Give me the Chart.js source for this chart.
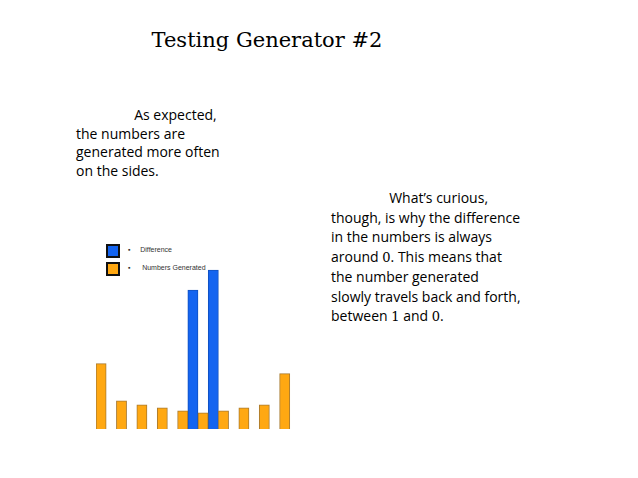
<!DOCTYPE html>
<html><head><meta charset="utf-8">
<script src="https://cdn.jsdelivr.net/npm/chart.js@4"></script>
<style>
body{margin:0;width:638px;height:478px;background:#fff;position:relative;overflow:hidden;font-family:"Open Sans","Noto Sans",sans-serif;}
.t{position:absolute;white-space:nowrap;color:#000}
#title{left:0;width:534px;top:28px;text-align:center;font-family:"DejaVu Serif","Liberation Serif",serif;font-size:21px;}
.body{font-size:14px;line-height:18.6px;}
.m{font-family:"DejaVu Serif",serif;font-size:13px}
.sq{position:absolute;width:10px;height:10px;border:2px solid #111}
.lg{position:absolute;font-size:7px;color:#333;font-family:"Liberation Sans",sans-serif}
#wrap{position:absolute;left:96px;top:268px;width:204px;height:161px}
</style></head><body>
<div class="t" id="title">Testing Generator #2</div>
<div class="t body" style="left:76px;top:106px">&nbsp;&nbsp;&nbsp;&nbsp;&nbsp;&nbsp;&nbsp;&nbsp;&nbsp;&nbsp;&nbsp;&nbsp;&nbsp;&nbsp;&nbsp;&nbsp;As expected,<br>the numbers are<br>generated more often<br>on the sides.</div>
<div class="t body" style="left:331px;top:188px;line-height:19.5px">&nbsp;&nbsp;&nbsp;&nbsp;&nbsp;&nbsp;&nbsp;&nbsp;&nbsp;&nbsp;&nbsp;&nbsp;&nbsp;&nbsp;&nbsp;&nbsp;What’s curious,<br>though, is why the difference<br>in the numbers is always<br>around <span class="m">0</span>. This means that<br>the number generated<br>slowly travels back and forth,<br>between <span class="m">1</span> and <span class="m">0</span>.</div>
<div class="sq" style="left:106px;top:244px;background:#1464f0"></div>
<div class="sq" style="left:106px;top:262px;background:#ffa812"></div>
<div class="lg" style="left:128px;top:246px">▪&nbsp;&nbsp;&nbsp;&nbsp;&nbsp;Difference</div>
<div class="lg" style="left:128px;top:264px">▪&nbsp;&nbsp;&nbsp;&nbsp;&nbsp;&nbsp;Numbers Generated</div>
<div id="wrap"><canvas id="c"></canvas></div>
<script>
const categories=["1","2","3","4","5","6","7","8","9","10"];
const generated=[65,28,24,21,18,16,18,21,24,55];
const difference=[null,null,null,null,138,158,null,null,null,null];
new Chart(document.getElementById('c'),{type:'bar',
data:{labels:categories,datasets:[
{label:'Numbers Generated',data:generated,backgroundColor:'#ffa812',borderColor:'#a87a30',borderWidth:1,categoryPercentage:1,barPercentage:1},
{label:'Difference',data:difference,backgroundColor:'#1464f0',borderColor:'#1050c0',borderWidth:1,categoryPercentage:1,barPercentage:1}]},
options:{responsive:true,maintainAspectRatio:false,animation:false,layout:{padding:0},
plugins:{legend:{display:false},tooltip:{enabled:false}},
scales:{x:{display:false},y:{display:false,min:0,max:160}}}});
</script>
</body></html>
